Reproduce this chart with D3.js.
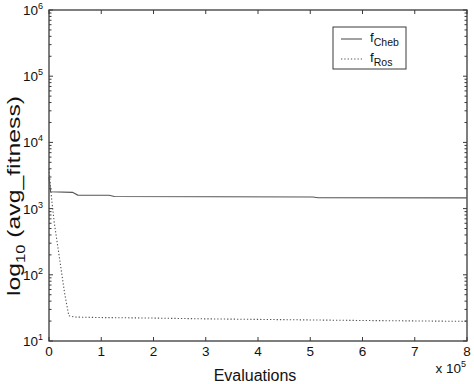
<!DOCTYPE html>
<html>
<head>
<meta charset="utf-8">
<script src="https://cdn.jsdelivr.net/npm/d3@7"></script>
<style>
  html,body{margin:0;padding:0;background:#fff;}
  svg{display:block;font-family:"Liberation Sans",Arial,sans-serif;}
</style>
</head>
<body>
<svg id="chart" width="474" height="384"></svg>
<script>
// x in units of 1e5 evaluations
const chebX=[0,0.03,0.45,0.55,1.15,1.25,5.05,5.15,8];
const chebY=[3000,1800,1760,1600,1590,1520,1500,1460,1450];
const rosX=[0,0.02,0.05,0.1,0.2,0.3,0.38,0.5,1,2,3,4,5,6,7,8];
const rosY=[4000,2600,1400,620,180,52,24,23,22.6,22.2,21.6,21.2,20.8,20.4,20.1,19.8];
const xTicks=[0,1,2,3,4,5,6,7,8];
const yTicks=[1,2,3,4,5,6]; // exponents

const svg=d3.select("#chart");
const m={left:49,right:467,top:10,bottom:341};
const x=d3.scaleLinear().domain([0,8]).range([m.left,m.right]);
const y=d3.scaleLog().domain([10,1e6]).range([m.bottom,m.top]);
const axisCol="#3a3a3a";

// frame
svg.append("rect").attr("x",m.left).attr("y",m.top)
  .attr("width",m.right-m.left).attr("height",m.bottom-m.top)
  .attr("fill","none").attr("stroke",axisCol).attr("stroke-width",1.3);

// ticks (inside, on all sides)
const tk=svg.append("g").attr("stroke",axisCol).attr("stroke-width",1);
xTicks.forEach(t=>{
  tk.append("line").attr("x1",x(t)).attr("x2",x(t)).attr("y1",m.bottom).attr("y2",m.bottom-4);
  tk.append("line").attr("x1",x(t)).attr("x2",x(t)).attr("y1",m.top).attr("y2",m.top+4);
});
const minor=[];
for(let e=1;e<6;e++) for(let k=2;k<10;k++) minor.push(k*Math.pow(10,e));
minor.forEach(v=>{
  tk.append("line").attr("x1",m.left).attr("x2",m.left+2.5).attr("y1",y(v)).attr("y2",y(v));
  tk.append("line").attr("x1",m.right).attr("x2",m.right-2.5).attr("y1",y(v)).attr("y2",y(v));
});
yTicks.forEach(e=>{
  const v=Math.pow(10,e);
  tk.append("line").attr("x1",m.left).attr("x2",m.left+4).attr("y1",y(v)).attr("y2",y(v));
  tk.append("line").attr("x1",m.right).attr("x2",m.right-4).attr("y1",y(v)).attr("y2",y(v));
});

// tick labels
const lab=svg.append("g").attr("fill","#111").attr("font-size",13.5);
xTicks.forEach(t=>{
  lab.append("text").attr("x",x(t)).attr("y",m.bottom+15).attr("text-anchor","middle").text(t);
});
yTicks.forEach(e=>{
  const tx=lab.append("text").attr("x",m.left-6).attr("y",y(Math.pow(10,e))+5).attr("text-anchor","end");
  tx.append("tspan").text("10");
  tx.append("tspan").attr("font-size",9).attr("dy",-6).text(e);
});
const xe=lab.append("text").attr("x",466).attr("y",373).attr("text-anchor","end");
xe.append("tspan").text("x 10");
xe.append("tspan").attr("font-size",9).attr("dy",-6).text("5");

// axis titles
svg.append("text").attr("x",255).attr("y",381).attr("text-anchor","middle")
  .attr("font-size",16).attr("fill","#111").text("Evaluations");
const yl=svg.append("text").attr("transform","translate(20,196) rotate(-90)")
  .attr("text-anchor","middle").attr("font-size",18).attr("fill","#111")
  .attr("textLength",200).attr("lengthAdjust","spacingAndGlyphs");
yl.append("tspan").text("log");
yl.append("tspan").attr("font-size",12).attr("dy",5).text("10");
yl.append("tspan").attr("dy",-5).text(" (avg_fitness)");

// lines
const line=d3.line().x(d=>x(d[0])).y(d=>y(d[1]));
const plot=svg.append("g");
plot.append("path").datum(d3.zip(chebX,chebY)).attr("d",line)
  .attr("fill","none").attr("stroke","#555").attr("stroke-width",1.1);
plot.append("path").datum(d3.zip(rosX,rosY)).attr("d",line)
  .attr("fill","none").attr("stroke","#555").attr("stroke-width",1.1).attr("stroke-dasharray","1.3,2");

// legend
const lg=svg.append("g");
lg.append("rect").attr("x",333).attr("y",27).attr("width",73).attr("height",42)
  .attr("fill","#fff").attr("stroke",axisCol).attr("stroke-width",1);
lg.append("line").attr("x1",341).attr("x2",362).attr("y1",39).attr("y2",39)
  .attr("stroke","#555").attr("stroke-width",1.1);
lg.append("line").attr("x1",341).attr("x2",362).attr("y1",59).attr("y2",59)
  .attr("stroke","#555").attr("stroke-width",1.1).attr("stroke-dasharray","1.3,2");
[["Cheb",42],["Ros",62]].forEach(([s,yy])=>{
  const t=lg.append("text").attr("x",370).attr("y",yy).attr("font-size",13.5).attr("fill","#111");
  t.append("tspan").text("f");
  t.append("tspan").attr("font-size",10.5).attr("dy",4).text(s);
});
</script>
</body>
</html>
